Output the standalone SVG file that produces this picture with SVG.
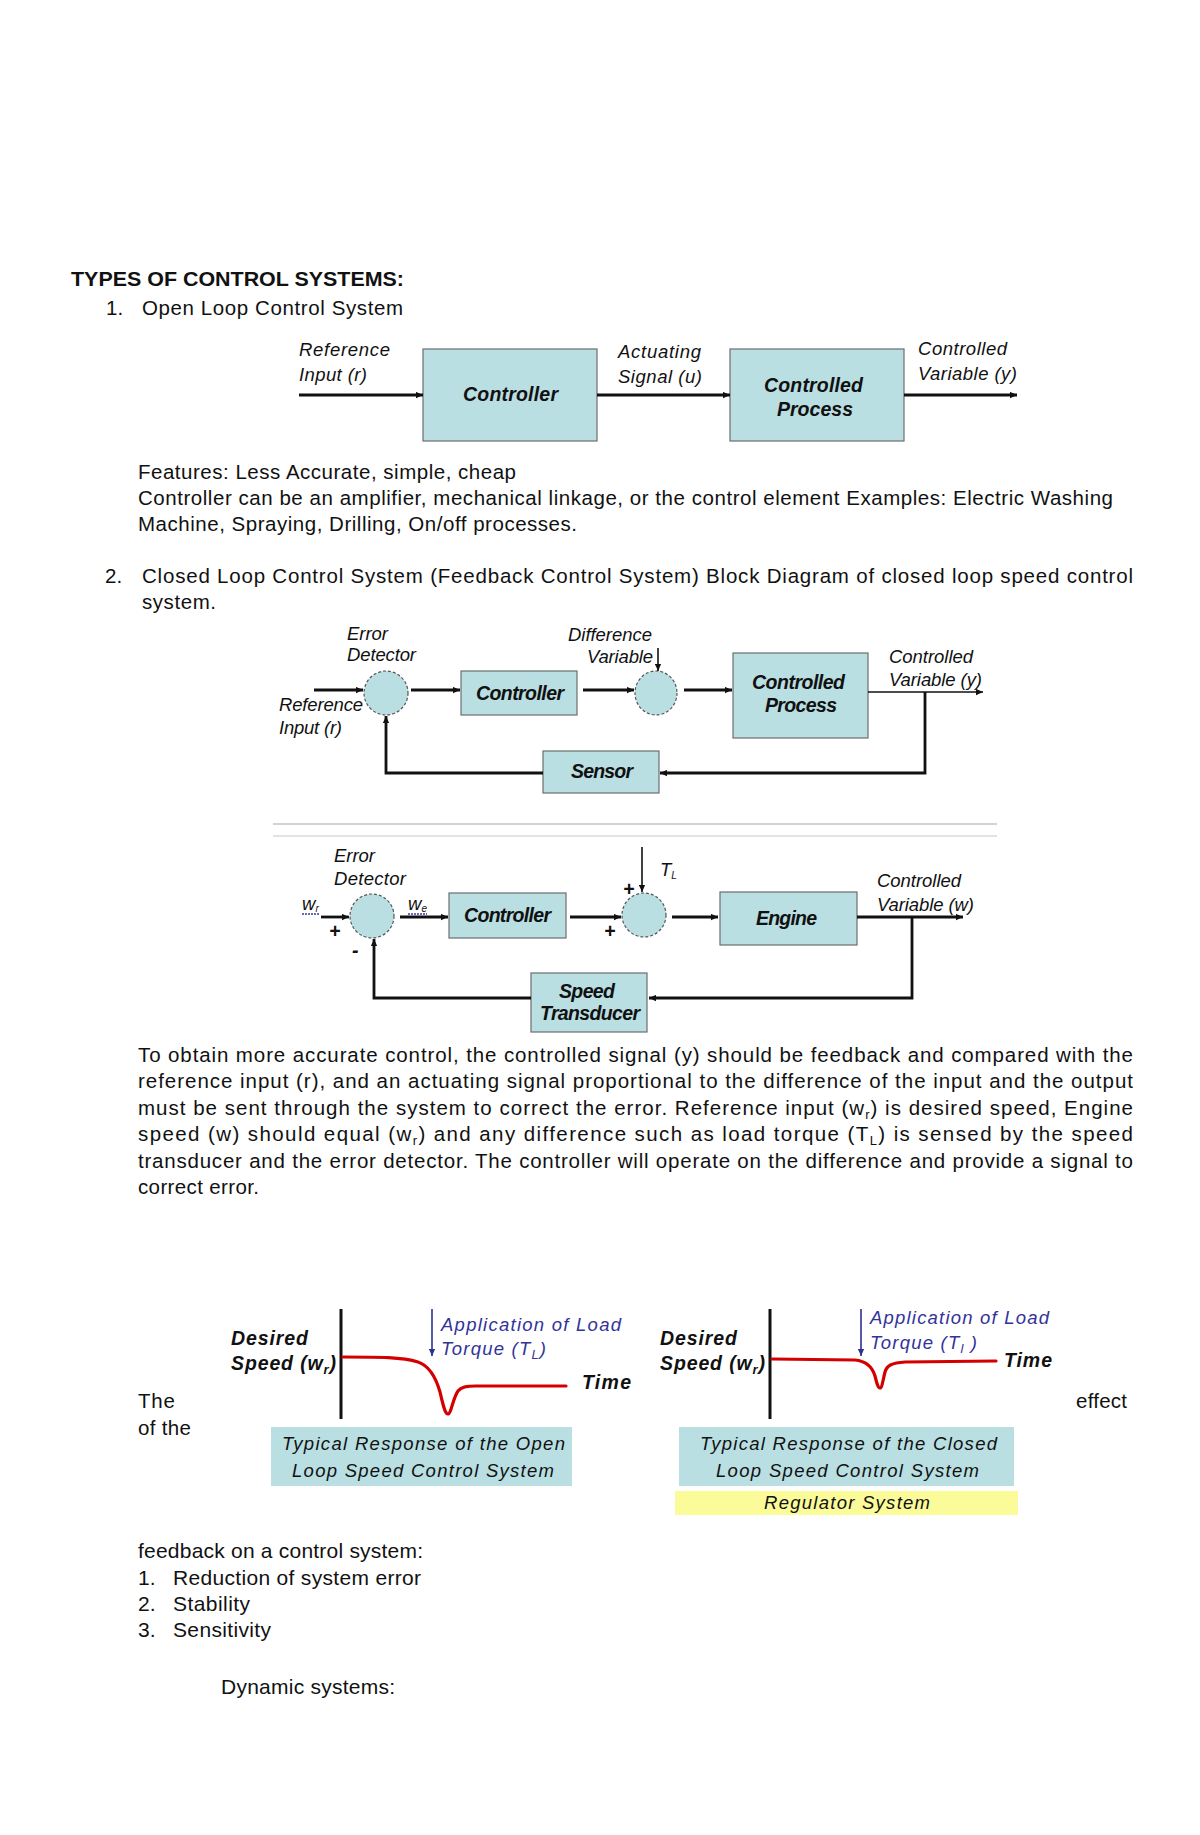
<svg xmlns="http://www.w3.org/2000/svg" width="1200" height="1835" viewBox="0 0 1200 1835">
<style>
text{font-family:"Liberation Sans",Arial,sans-serif;fill:#111}
.body{font-size:20.5px}
.big{font-size:21px}
.title{font-size:21px;font-weight:bold}
.lbl{font-size:18.5px;font-style:italic}
.bi{font-size:19.5px;font-style:italic;font-weight:bold}
.blue{fill:#333399}
.box{fill:#b9dfe3;stroke:#6d6d6d;stroke-width:1.2}
.circ{fill:#b9dfe3;stroke:#555;stroke-width:1.2;stroke-dasharray:3 2}
.w{fill:none;stroke:#111;stroke-width:2.8}
.wt{fill:none;stroke:#111;stroke-width:1.6}
.red{fill:none;stroke:#d40000;stroke-width:3.2;stroke-linecap:round;stroke-linejoin:round}
.ax{stroke:#111;stroke-width:3}
</style>
<defs>
<marker id="ah" viewBox="0 0 10 10" refX="10" refY="5" markerWidth="8" markerHeight="7" markerUnits="userSpaceOnUse" orient="auto"><path d="M0,0.5 L10,5 L0,9.5 z" fill="#111"/></marker>
<marker id="ahb" viewBox="0 0 10 10" refX="10" refY="5" markerWidth="8" markerHeight="7" markerUnits="userSpaceOnUse" orient="auto"><path d="M0,0.5 L10,5 L0,9.5 z" fill="#2e3192"/></marker>
</defs>

<!-- Heading -->
<text class="title" x="71" y="286" textLength="333" lengthAdjust="spacingAndGlyphs">TYPES OF CONTROL SYSTEMS:</text>
<text class="body" x="106" y="315">1.</text>
<text class="body" x="142" y="315" textLength="261" lengthAdjust="spacing">Open Loop Control System</text>

<!-- Diagram 1: open loop -->
<g id="ol-controller"><rect class="box" x="423" y="349" width="174" height="92"/><text class="bi" x="463" y="401" textLength="95" lengthAdjust="spacing">Controller</text></g>
<g id="ol-process"><rect class="box" x="730" y="349" width="174" height="92"/><text class="bi" x="764" y="392" textLength="99" lengthAdjust="spacing">Controlled</text><text class="bi" x="777" y="416" textLength="76" lengthAdjust="spacing">Process</text></g>
<g id="ol-connectors">
<path class="w" d="M299,395 H423" marker-end="url(#ah)"/>
<path class="w" d="M597,395 H730" marker-end="url(#ah)"/>
<path class="w" d="M904,395 H1017" marker-end="url(#ah)"/>
</g>
<g id="ol-labels">
<text class="lbl" x="299" y="356" textLength="91" lengthAdjust="spacing">Reference</text>
<text class="lbl" x="299" y="381" textLength="68" lengthAdjust="spacing">Input (r)</text>
<text class="lbl" x="618" y="358" textLength="83" lengthAdjust="spacing">Actuating</text>
<text class="lbl" x="618" y="383" textLength="84" lengthAdjust="spacing">Signal (u)</text>
<text class="lbl" x="918" y="355" textLength="89" lengthAdjust="spacing">Controlled</text>
<text class="lbl" x="918" y="380" textLength="99" lengthAdjust="spacing">Variable (y)</text>
</g>

<text class="body" x="138" y="479" textLength="378" lengthAdjust="spacing">Features: Less Accurate, simple, cheap</text>
<text class="body" x="138" y="505" textLength="975" lengthAdjust="spacing">Controller can be an amplifier, mechanical linkage, or the control element Examples: Electric Washing</text>
<text class="body" x="138" y="531" textLength="439" lengthAdjust="spacing">Machine, Spraying, Drilling, On/off processes.</text>

<text class="body" x="105" y="583">2.</text>
<text class="body" x="142" y="583" textLength="991" lengthAdjust="spacing">Closed Loop Control System (Feedback Control System) Block Diagram of closed loop speed control</text>
<text class="body" x="142" y="609" textLength="74" lengthAdjust="spacing">system.</text>

<!-- Diagram 2: closed loop -->
<g id="cl-error-detector"><ellipse class="circ" cx="386" cy="693" rx="22" ry="22"/></g>
<g id="cl-controller"><rect class="box" x="461" y="671" width="116" height="44"/><text class="bi" x="476" y="700" textLength="88" lengthAdjust="spacing">Controller</text></g>
<g id="cl-sum"><ellipse class="circ" cx="656" cy="693" rx="21" ry="22"/></g>
<g id="cl-process"><rect class="box" x="733" y="653" width="135" height="85"/><text class="bi" x="752" y="689" textLength="93" lengthAdjust="spacing">Controlled</text><text class="bi" x="765" y="712" textLength="72" lengthAdjust="spacing">Process</text></g>
<g id="cl-sensor"><rect class="box" x="543" y="751" width="116" height="42"/><text class="bi" x="571" y="778" textLength="62" lengthAdjust="spacing">Sensor</text></g>
<g id="cl-connectors">
<path class="w" d="M314,690 H363" marker-end="url(#ah)"/>
<path class="w" d="M411,690 H460" marker-end="url(#ah)"/>
<path class="w" d="M583,690 H634" marker-end="url(#ah)"/>
<path class="wt" d="M658,648 V671" marker-end="url(#ah)"/>
<path class="w" d="M684,690 H732" marker-end="url(#ah)"/>
<path class="wt" d="M868,692 H983" marker-end="url(#ah)"/>
<path class="w" d="M925,692 V773 H660" marker-end="url(#ah)"/>
<path class="w" d="M543,773 H386 V716" marker-end="url(#ah)"/>
</g>
<g id="cl-labels">
<text class="lbl" x="347" y="640" textLength="41" lengthAdjust="spacing">Error</text>
<text class="lbl" x="347" y="661" textLength="69" lengthAdjust="spacing">Detector</text>
<text class="lbl" x="279" y="711" textLength="84" lengthAdjust="spacing">Reference</text>
<text class="lbl" x="279" y="734" textLength="63" lengthAdjust="spacing">Input (r)</text>
<text class="lbl" x="568" y="641" textLength="84" lengthAdjust="spacing">Difference</text>
<text class="lbl" x="587" y="663" textLength="66" lengthAdjust="spacing">Variable</text>
<text class="lbl" x="889" y="663" textLength="84" lengthAdjust="spacing">Controlled</text>
<text class="lbl" x="889" y="686" textLength="93" lengthAdjust="spacing">Variable (y)</text>
</g>

<!-- separator -->
<line x1="273" y1="824" x2="997" y2="824" stroke="#c4c4c4" stroke-width="1.5"/>
<line x1="273" y1="836" x2="997" y2="836" stroke="#dadada" stroke-width="1.5"/>

<!-- Diagram 3: speed control -->
<g id="sc-error-detector"><ellipse class="circ" cx="372" cy="916" rx="22" ry="22"/></g>
<g id="sc-controller"><rect class="box" x="449" y="893" width="117" height="45"/><text class="bi" x="464" y="922" textLength="87" lengthAdjust="spacing">Controller</text></g>
<g id="sc-sum"><ellipse class="circ" cx="644" cy="915" rx="22" ry="22"/></g>
<g id="sc-engine"><rect class="box" x="720" y="892" width="137" height="53"/><text class="bi" x="756" y="925" textLength="61" lengthAdjust="spacing">Engine</text></g>
<g id="sc-transducer"><rect class="box" x="531" y="973" width="116" height="59"/><text class="bi" x="559" y="998" textLength="56" lengthAdjust="spacing">Speed</text><text class="bi" x="540" y="1020" textLength="100" lengthAdjust="spacing">Transducer</text></g>
<g id="sc-connectors">
<path class="w" d="M321,917 H349" marker-end="url(#ah)"/>
<path class="w" d="M400,917 H448" marker-end="url(#ah)"/>
<path class="w" d="M570,917 H621" marker-end="url(#ah)"/>
<path class="wt" d="M642,847 V892" marker-end="url(#ah)"/>
<path class="w" d="M672,917 H718" marker-end="url(#ah)"/>
<path class="w" d="M857,917 H963" marker-end="url(#ah)"/>
<path class="w" d="M912,917 V998 H649" marker-end="url(#ah)"/>
<path class="w" d="M531,998 H374 V939" marker-end="url(#ah)"/>
</g>
<g id="sc-labels">
<text class="lbl" x="334" y="862" textLength="41" lengthAdjust="spacing">Error</text>
<text class="lbl" x="334" y="885" textLength="72" lengthAdjust="spacing">Detector</text>
<text class="lbl" x="302" y="910" font-size="15">w<tspan font-size="10" dy="2">r</tspan></text>
<line x1="302" y1="914" x2="320" y2="914" stroke="#3a3aa0" stroke-width="1.5" stroke-dasharray="2 1"/>
<text class="lbl" x="408" y="910" font-size="15">w<tspan font-size="10" dy="2">e</tspan></text>
<line x1="408" y1="914" x2="427" y2="914" stroke="#3a3aa0" stroke-width="1.5" stroke-dasharray="2 1"/>
<text class="bi" x="329" y="938" font-size="17">+</text>
<text class="bi" x="352" y="957" font-size="17">-</text>
<text class="bi" x="604" y="938" font-size="17">+</text>
<text class="bi" x="623" y="896" font-size="17">+</text>
<text class="lbl" x="660" y="876" font-size="15">T<tspan font-size="10" dy="3">L</tspan></text>
<text class="lbl" x="877" y="887" textLength="84" lengthAdjust="spacing">Controlled</text>
<text class="lbl" x="877" y="911" textLength="97" lengthAdjust="spacing">Variable (w)</text>
</g>

<!-- paragraph -->
<text class="body" x="138" y="1062" textLength="995" lengthAdjust="spacing">To obtain more accurate control, the controlled signal (y) should be feedback and compared with the</text>
<text class="body" x="138" y="1088" textLength="995" lengthAdjust="spacing">reference input (r), and an actuating signal proportional to the difference of the input and the output</text>
<text class="body" x="138" y="1115" textLength="995" lengthAdjust="spacing">must be sent through the system to correct the error. Reference input (w<tspan font-size="13" dy="4">r</tspan><tspan dy="-4">) is desired speed, Engine</tspan></text>
<text class="body" x="138" y="1141" textLength="995" lengthAdjust="spacing">speed (w) should equal (w<tspan font-size="13" dy="4">r</tspan><tspan dy="-4">) and any difference such as load torque (T</tspan><tspan font-size="13" dy="4">L</tspan><tspan dy="-4">) is sensed by the speed</tspan></text>
<text class="body" x="138" y="1168" textLength="995" lengthAdjust="spacing">transducer and the error detector. The controller will operate on the difference and provide a signal to</text>
<text class="body" x="138" y="1194" textLength="121" lengthAdjust="spacing">correct error.</text>

<!-- Response graphs -->
<g id="open-response">
<line class="ax" x1="341" y1="1309" x2="341" y2="1419"/>
<path class="red" d="M343,1357 C380,1357 402,1357 418,1362 C430,1366 436,1378 440,1392 C443,1405 445,1414 448,1414 C451,1414 453,1398 458,1391 C461,1387 466,1386 476,1386 L566,1386"/>
<path d="M432,1309 V1356" stroke="#2e3192" stroke-width="1.6" fill="none" marker-end="url(#ahb)"/>
<text class="bi" x="231" y="1345" font-size="20" textLength="77" lengthAdjust="spacing">Desired</text>
<text class="bi" x="231" y="1370" font-size="20" textLength="105" lengthAdjust="spacing">Speed (w<tspan font-size="13" dy="4">r</tspan><tspan dy="-4">)</tspan></text>
<text class="lbl blue" x="441" y="1331" font-size="20" textLength="180" lengthAdjust="spacing">Application of Load</text>
<text class="lbl blue" x="441" y="1355" font-size="20" textLength="105" lengthAdjust="spacing">Torque (T<tspan font-size="13" dy="4">L</tspan><tspan dy="-4">)</tspan></text>
<text class="bi" x="582" y="1389" font-size="20" textLength="49" lengthAdjust="spacing">Time</text>
<rect x="271" y="1427" width="301" height="59" fill="#b9dfe3"/>
<text class="lbl" x="282" y="1450" font-size="20" textLength="283" lengthAdjust="spacing">Typical Response of the Open</text>
<text class="lbl" x="292" y="1477" font-size="20" textLength="262" lengthAdjust="spacing">Loop Speed Control System</text>
</g>
<g id="closed-response">
<line class="ax" x1="770" y1="1309" x2="770" y2="1419"/>
<path class="red" d="M772,1359 L855,1360 C866,1361 872,1366 875,1376 C877,1384 878,1388 880,1388 C882,1388 883,1380 885,1372 C887,1365 892,1363 905,1362 L996,1361"/>
<path d="M861,1309 V1356" stroke="#2e3192" stroke-width="1.6" fill="none" marker-end="url(#ahb)"/>
<text class="bi" x="660" y="1345" font-size="20" textLength="77" lengthAdjust="spacing">Desired</text>
<text class="bi" x="660" y="1370" font-size="20" textLength="105" lengthAdjust="spacing">Speed (w<tspan font-size="13" dy="4">r</tspan><tspan dy="-4">)</tspan></text>
<text class="lbl blue" x="870" y="1324" font-size="20" textLength="179" lengthAdjust="spacing">Application of Load</text>
<text class="lbl blue" x="870" y="1349" font-size="20" textLength="107" lengthAdjust="spacing">Torque (T<tspan font-size="13" dy="4">l</tspan><tspan dy="-4"> )</tspan></text>
<text class="bi" x="1004" y="1367" font-size="20" textLength="48" lengthAdjust="spacing">Time</text>
<rect x="679" y="1427" width="335" height="59" fill="#b9dfe3"/>
<text class="lbl" x="700" y="1450" font-size="20" textLength="297" lengthAdjust="spacing">Typical Response of the Closed</text>
<text class="lbl" x="716" y="1477" font-size="20" textLength="263" lengthAdjust="spacing">Loop Speed Control System</text>
<rect x="675" y="1491" width="343" height="24" fill="#fbfb9a"/>
<text class="lbl" x="764" y="1509" font-size="20" textLength="166" lengthAdjust="spacing">Regulator System</text>
</g>

<text class="body" x="138" y="1408" textLength="37" lengthAdjust="spacing">The</text>
<text class="body" x="138" y="1435" textLength="53" lengthAdjust="spacing">of the</text>
<text class="body" x="1076" y="1408" textLength="51" lengthAdjust="spacing">effect</text>

<!-- bottom list -->
<text class="big" x="138" y="1558" textLength="285" lengthAdjust="spacing">feedback on a control system:</text>
<text class="big" x="138" y="1585">1.</text>
<text class="big" x="173" y="1585" textLength="248" lengthAdjust="spacing">Reduction of system error</text>
<text class="big" x="138" y="1611">2.</text>
<text class="big" x="173" y="1611" textLength="77" lengthAdjust="spacing">Stability</text>
<text class="big" x="138" y="1637">3.</text>
<text class="big" x="173" y="1637" textLength="98" lengthAdjust="spacing">Sensitivity</text>
<text class="big" x="221" y="1694" textLength="174" lengthAdjust="spacing">Dynamic systems:</text>
</svg>
